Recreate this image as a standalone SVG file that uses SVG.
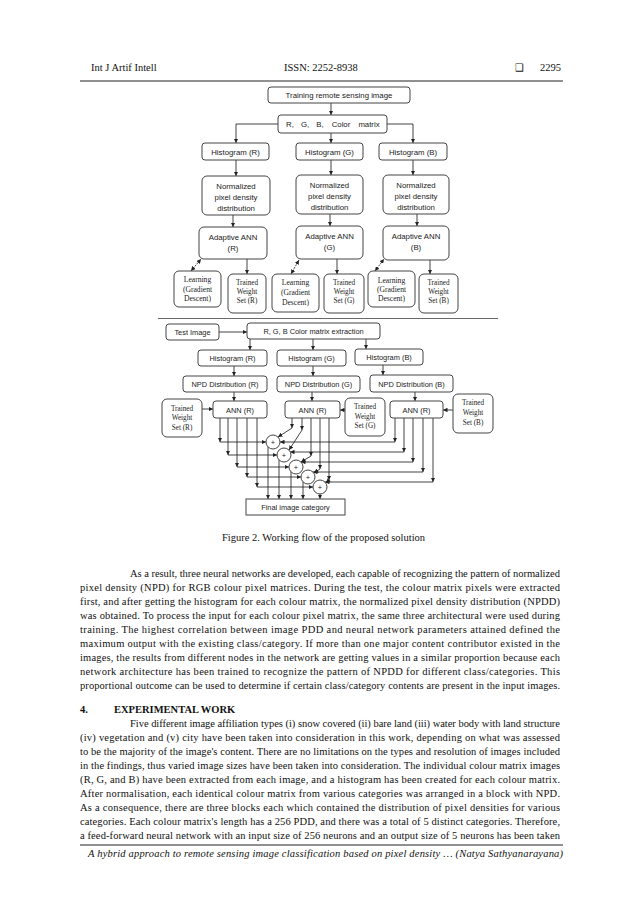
<svg xmlns="http://www.w3.org/2000/svg" width="638" height="902" viewBox="0 0 638 902">
<style>
.box{fill:#fff;stroke:#444;stroke-width:1}
.t{font-family:"Liberation Sans",Arial,sans-serif;font-size:7.8px;fill:#222;text-anchor:middle}
.t2{font-family:"Liberation Sans",Arial,sans-serif;font-size:7.4px;fill:#222;text-anchor:middle}
.s{font-family:"Liberation Serif","Times New Roman",serif;font-size:7.6px;fill:#222;text-anchor:middle}
.s2{font-family:"Liberation Serif","Times New Roman",serif;font-size:7.2px;fill:#222;text-anchor:middle}
.ln{stroke:#222;stroke-width:0.85;fill:none}
.ar{marker-end:url(#a)}
.body{font-family:"Liberation Serif","Times New Roman",serif;font-size:10.5px;fill:#111}
.hd{font-family:"Liberation Serif","Times New Roman",serif;font-size:10.5px;fill:#111}
</style>
<defs>
<marker id="a" viewBox="0 0 6 6" refX="6" refY="3" markerWidth="4.5" markerHeight="4.5" markerUnits="userSpaceOnUse" orient="auto-start-reverse"><path d="M0,0L6,3L0,6z" fill="#222"/></marker>
</defs>
<rect width="638" height="902" fill="#fff"/>

<g id="header">
<text class="hd" x="91" y="71">Int J Artif Intell</text>
<text class="hd" x="284" y="71">ISSN: 2252-8938</text>
<text x="515" y="71" font-family="DejaVu Sans,sans-serif" font-size="10" fill="#111">❑</text>
<text class="hd" x="540" y="71">2295</text>
<line x1="80" y1="81" x2="563" y2="81" stroke="#222" stroke-width="1"/>
</g>

<g id="connectors">
<path class="ln ar" d="M331,103V115"/>
<path class="ln ar" d="M331,133V143"/>
<path class="ln ar" d="M278,124H236V143"/>
<path class="ln ar" d="M387,124H413V143"/>
<path class="ln ar" d="M236,160V176"/>
<path class="ln ar" d="M331,160V175"/>
<path class="ln ar" d="M413,160V175"/>
<path class="ln ar" d="M233,215V227"/>
<path class="ln ar" d="M330,214V226"/>
<path class="ln ar" d="M417,214V226"/>
<path class="ln ar" d="M247,259V274"/>
<path class="ln ar" d="M337,259V274"/>
<path class="ln ar" d="M430,260V274"/>
<path class="ln" d="M191,271L201,259" stroke-dasharray="2,1" marker-start="url(#a)" marker-end="url(#a)" stroke-width="1.1"/>
<path class="ln" d="M291,274L299,260" stroke-dasharray="2,1" marker-start="url(#a)" marker-end="url(#a)" stroke-width="1.1"/>
<path class="ln" d="M375,271L384,259" stroke-dasharray="2,1" marker-start="url(#a)" marker-end="url(#a)" stroke-width="1.1"/>
<line x1="158" y1="318.5" x2="498" y2="318.5" stroke="#444" stroke-width="0.8"/>
<path class="ln ar" d="M219,332H247"/>
<path class="ln ar" d="M250,339V350"/>
<path class="ln ar" d="M313,339V350"/>
<path class="ln ar" d="M366,339V349"/>
<path class="ln ar" d="M234,366V376"/>
<path class="ln ar" d="M313,366V376"/>
<path class="ln ar" d="M383,365V375"/>
<path class="ln ar" d="M234,392V401"/>
<path class="ln ar" d="M312,392V401"/>
<path class="ln ar" d="M415,392V401"/>
<path class="ln ar" d="M202,409H213"/>
<path class="ln ar" d="M345,410H340"/>
<path class="ln ar" d="M453,410H443"/>
<path class="ln ar" d="M220,418V442"/><path class="ln ar" d="M220,442H266"/>
<path class="ln ar" d="M228,418V455"/><path class="ln ar" d="M228,455H277"/>
<path class="ln ar" d="M237,418V467"/><path class="ln ar" d="M237,467H289"/>
<path class="ln ar" d="M247,418V477"/><path class="ln ar" d="M247,477H301"/>
<path class="ln ar" d="M257,418V487"/><path class="ln ar" d="M257,487H313"/>
<path class="ln ar" d="M292,418V428"/><path class="ln ar" d="M292,428L278,437"/>
<path class="ln ar" d="M302,418V430"/><path class="ln ar" d="M302,430L289,450"/>
<path class="ln ar" d="M311,418V456"/><path class="ln ar" d="M311,456L301,462"/>
<path class="ln ar" d="M320,418V469"/><path class="ln ar" d="M320,469L314,473"/>
<path class="ln ar" d="M329,418V480"/><path class="ln ar" d="M329,480L326,483"/>
<path class="ln ar" d="M395,418V442"/><path class="ln ar" d="M395,442H280"/>
<path class="ln ar" d="M404,418V452"/><path class="ln ar" d="M404,452H290"/>
<path class="ln ar" d="M413,418V462"/><path class="ln ar" d="M413,462H301"/>
<path class="ln ar" d="M423,418V472"/><path class="ln ar" d="M423,472H313"/>
<path class="ln ar" d="M433,418V482"/><path class="ln ar" d="M433,482H325"/>
<path class="ln ar" d="M268,447V499"/>
<path class="ln ar" d="M279,460V499"/>
<path class="ln ar" d="M291,472V499"/>
<path class="ln ar" d="M303,482V499"/>
<path class="ln ar" d="M320,494V499"/>
</g>

<g id="train"><rect class="box" x="268" y="87" width="142" height="16" rx="3"/><text class="t" x="339" y="98">Training remote sensing image</text></g>
<g id="rgb"><rect class="box" x="278" y="115" width="109" height="18" rx="3"/>
<text class="t" x="290" y="127">R,</text><text class="t" x="305" y="127">G,</text><text class="t" x="320" y="127">B,</text><text class="t" x="341" y="127">Color</text><text class="t" x="369" y="127">matrix</text></g>
<g id="histR"><rect class="box" x="202" y="143" width="67" height="17" rx="3"/><text class="t" x="235.5" y="154.5">Histogram (R)</text></g>
<g id="histG"><rect class="box" x="296" y="143" width="67" height="17" rx="3"/><text class="t" x="329.5" y="154.5">Histogram (G)</text></g>
<g id="histB"><rect class="box" x="379" y="143" width="68" height="17" rx="3"/><text class="t" x="413" y="154.5">Histogram (B)</text></g>
<g id="normR"><rect class="box" x="202" y="176" width="68" height="39" rx="5"/><text class="t" x="236" y="189">Normalized</text><text class="t" x="236" y="200">pixel density</text><text class="t" x="236" y="211">distribution</text></g>
<g id="normG"><rect class="box" x="296" y="175" width="67" height="39" rx="5"/><text class="t" x="329.5" y="188">Normalized</text><text class="t" x="329.5" y="199">pixel density</text><text class="t" x="329.5" y="210">distribution</text></g>
<g id="normB"><rect class="box" x="383" y="175" width="66" height="39" rx="5"/><text class="t" x="416" y="188">Normalized</text><text class="t" x="416" y="199">pixel density</text><text class="t" x="416" y="210">distribution</text></g>
<g id="annR"><rect class="box" x="199" y="227" width="68" height="32" rx="5"/><text class="t" x="233" y="240">Adaptive ANN</text><text class="t" x="233" y="251">(R)</text></g>
<g id="annG"><rect class="box" x="296" y="226" width="67" height="33" rx="5"/><text class="t" x="329.5" y="239">Adaptive ANN</text><text class="t" x="329.5" y="250">(G)</text></g>
<g id="annB"><rect class="box" x="383" y="226" width="66" height="34" rx="5"/><text class="t" x="416" y="239">Adaptive ANN</text><text class="t" x="416" y="250">(B)</text></g>
<g id="learnR"><rect class="box" x="174" y="271" width="47" height="36" rx="5"/><text class="s" x="197.5" y="282">Learning</text><text class="s" x="197.5" y="291.5">(Gradient</text><text class="s" x="197.5" y="301">Descent)</text></g>
<g id="trainedR"><rect class="box" x="228" y="274" width="38" height="39" rx="5"/><text class="s2" x="247" y="285">Trained</text><text class="s2" x="247" y="294">Weight</text><text class="s2" x="247" y="303">Set (R)</text></g>
<g id="learnG"><rect class="box" x="272" y="274" width="47" height="38" rx="5"/><text class="s" x="295.5" y="285">Learning</text><text class="s" x="295.5" y="295">(Gradient</text><text class="s" x="295.5" y="305">Descent)</text></g>
<g id="trainedG"><rect class="box" x="324" y="274" width="40" height="39" rx="5"/><text class="s2" x="344" y="285">Trained</text><text class="s2" x="344" y="294">Weight</text><text class="s2" x="344" y="303">Set (G)</text></g>
<g id="learnB"><rect class="box" x="368" y="271" width="47" height="36" rx="5"/><text class="s" x="391.5" y="283">Learning</text><text class="s" x="391.5" y="292">(Gradient</text><text class="s" x="391.5" y="301">Descent)</text></g>
<g id="trainedB"><rect class="box" x="419" y="274" width="39" height="39" rx="5"/><text class="s2" x="438.5" y="285">Trained</text><text class="s2" x="438.5" y="294">Weight</text><text class="s2" x="438.5" y="303">Set (B)</text></g>

<g id="testImage"><rect class="box" x="166" y="324" width="53" height="16" rx="3"/><text class="t2" x="192.5" y="335">Test Image</text></g>
<g id="extract"><rect class="box" x="247" y="323" width="133" height="16" rx="3"/><text class="t2" x="313.5" y="334">R, G, B Color matrix extraction</text></g>
<g id="hist2R"><rect class="box" x="198" y="350" width="69" height="16" rx="3"/><text class="t2" x="232.5" y="361">Histogram (R)</text></g>
<g id="hist2G"><rect class="box" x="277" y="350" width="69" height="16" rx="3"/><text class="t2" x="311.5" y="361">Histogram (G)</text></g>
<g id="hist2B"><rect class="box" x="355" y="349" width="68" height="16" rx="3"/><text class="t2" x="389" y="360">Histogram (B)</text></g>
<g id="npdR"><rect class="box" x="183" y="376" width="84" height="16" rx="3"/><text class="t2" x="225" y="387">NPD Distribution (R)</text></g>
<g id="npdG"><rect class="box" x="277" y="376" width="83" height="16" rx="3"/><text class="t2" x="318.5" y="387">NPD Distribution (G)</text></g>
<g id="npdB"><rect class="box" x="370" y="375" width="83" height="17" rx="3"/><text class="t2" x="411.5" y="386.5">NPD Distribution (B)</text></g>
<g id="ann2R"><rect class="box" x="213" y="401" width="54" height="17" rx="3"/><text class="t2" x="240" y="412.5">ANN (R)</text></g>
<g id="ann2G"><rect class="box" x="285" y="401" width="55" height="17" rx="3"/><text class="t2" x="312.5" y="412.5">ANN (R)</text></g>
<g id="ann2B"><rect class="box" x="390" y="401" width="53" height="17" rx="3"/><text class="t2" x="416.5" y="412.5">ANN (R)</text></g>
<g id="tw2R"><rect class="box" x="162" y="399" width="40" height="38" rx="5"/><text class="s2" x="182" y="410.5">Trained</text><text class="s2" x="182" y="420">Weight</text><text class="s2" x="182" y="430">Set (R)</text></g>
<g id="tw2G"><rect class="box" x="345" y="398" width="40" height="38" rx="5"/><text class="s2" x="365" y="408.5">Trained</text><text class="s2" x="365" y="418.5">Weight</text><text class="s2" x="365" y="428">Set (G)</text></g>
<g id="tw2B"><rect class="box" x="453" y="394" width="40" height="39" rx="5"/><text class="s2" x="473" y="405">Trained</text><text class="s2" x="473" y="415">Weight</text><text class="s2" x="473" y="425">Set (B)</text></g>
<g id="sum1"><circle class="box" cx="273" cy="442" r="7"/><text class="t2" x="273" y="444.5" font-size="6">+</text></g>
<g id="sum2"><circle class="box" cx="284" cy="455" r="7"/><text class="t2" x="284" y="457.5" font-size="6">+</text></g>
<g id="sum3"><circle class="box" cx="296" cy="467" r="7"/><text class="t2" x="296" y="469.5" font-size="6">+</text></g>
<g id="sum4"><circle class="box" cx="308" cy="477" r="7"/><text class="t2" x="308" y="479.5" font-size="6">+</text></g>
<g id="sum5"><circle class="box" cx="320" cy="487" r="7"/><text class="t2" x="320" y="489.5" font-size="6">+</text></g>
<g id="final"><rect class="box" x="246" y="499" width="99" height="16"/><text class="t2" x="295.5" y="510">Final image category</text></g>

<g id="text">
<text class="body" x="222" y="541">Figure 2. Working flow of the proposed solution</text>
<text class="body" x="130" y="577" textLength="430" lengthAdjust="spacing">As a result, three neural networks are developed, each capable of recognizing the pattern of normalized</text>
<text class="body" x="80" y="591" textLength="480" lengthAdjust="spacing">pixel density (NPD) for RGB colour pixel matrices. During the test, the colour matrix pixels were extracted</text>
<text class="body" x="80" y="605" textLength="480" lengthAdjust="spacing">first, and after getting the histogram for each colour matrix, the normalized pixel density distribution (NPDD)</text>
<text class="body" x="80" y="619" textLength="480" lengthAdjust="spacing">was obtained. To process the input for each colour pixel matrix, the same three architectural were used during</text>
<text class="body" x="80" y="633" textLength="480" lengthAdjust="spacing">training. The highest correlation between image PDD and neural network parameters attained defined the</text>
<text class="body" x="80" y="647" textLength="480" lengthAdjust="spacing">maximum output with the existing class/category. If more than one major content contributor existed in the</text>
<text class="body" x="80" y="661" textLength="480" lengthAdjust="spacing">images, the results from different nodes in the network are getting values in a similar proportion because each</text>
<text class="body" x="80" y="675" textLength="480" lengthAdjust="spacing">network architecture has been trained to recognize the pattern of NPDD for different class/categories. This</text>
<text class="body" x="80" y="689" textLength="480" lengthAdjust="spacing">proportional outcome can be used to determine if certain class/category contents are present in the input images.</text>
<text class="body" x="80" y="713" font-weight="bold">4.</text>
<text class="body" x="114" y="713" font-weight="bold">EXPERIMENTAL WORK</text>
<text class="body" x="130" y="727" textLength="430" lengthAdjust="spacing">Five different image affiliation types (i) snow covered (ii) bare land (iii) water body with land structure</text>
<text class="body" x="80" y="741" textLength="480" lengthAdjust="spacing">(iv) vegetation and (v) city have been taken into consideration in this work, depending on what was assessed</text>
<text class="body" x="80" y="755" textLength="480" lengthAdjust="spacing">to be the majority of the image's content. There are no limitations on the types and resolution of images included</text>
<text class="body" x="80" y="769" textLength="480" lengthAdjust="spacing">in the findings, thus varied image sizes have been taken into consideration. The individual colour matrix images</text>
<text class="body" x="80" y="783" textLength="480" lengthAdjust="spacing">(R, G, and B) have been extracted from each image, and a histogram has been created for each colour matrix.</text>
<text class="body" x="80" y="797" textLength="480" lengthAdjust="spacing">After normalisation, each identical colour matrix from various categories was arranged in a block with NPD.</text>
<text class="body" x="80" y="811" textLength="480" lengthAdjust="spacing">As a consequence, there are three blocks each which contained the distribution of pixel densities for various</text>
<text class="body" x="80" y="825" textLength="480" lengthAdjust="spacing">categories. Each colour matrix's length has a 256 PDD, and there was a total of 5 distinct categories. Therefore,</text>
<text class="body" x="80" y="839" textLength="480" lengthAdjust="spacing">a feed-forward neural network with an input size of 256 neurons and an output size of 5 neurons has been taken</text>
</g>
<g id="footer">
<line x1="80" y1="845" x2="563" y2="845" stroke="#222" stroke-width="1.2"/>
<text class="body" x="88" y="857" font-style="italic" textLength="475" lengthAdjust="spacing">A hybrid approach to remote sensing image classification based on pixel density … (Natya Sathyanarayana)</text>
</g>
</svg>
